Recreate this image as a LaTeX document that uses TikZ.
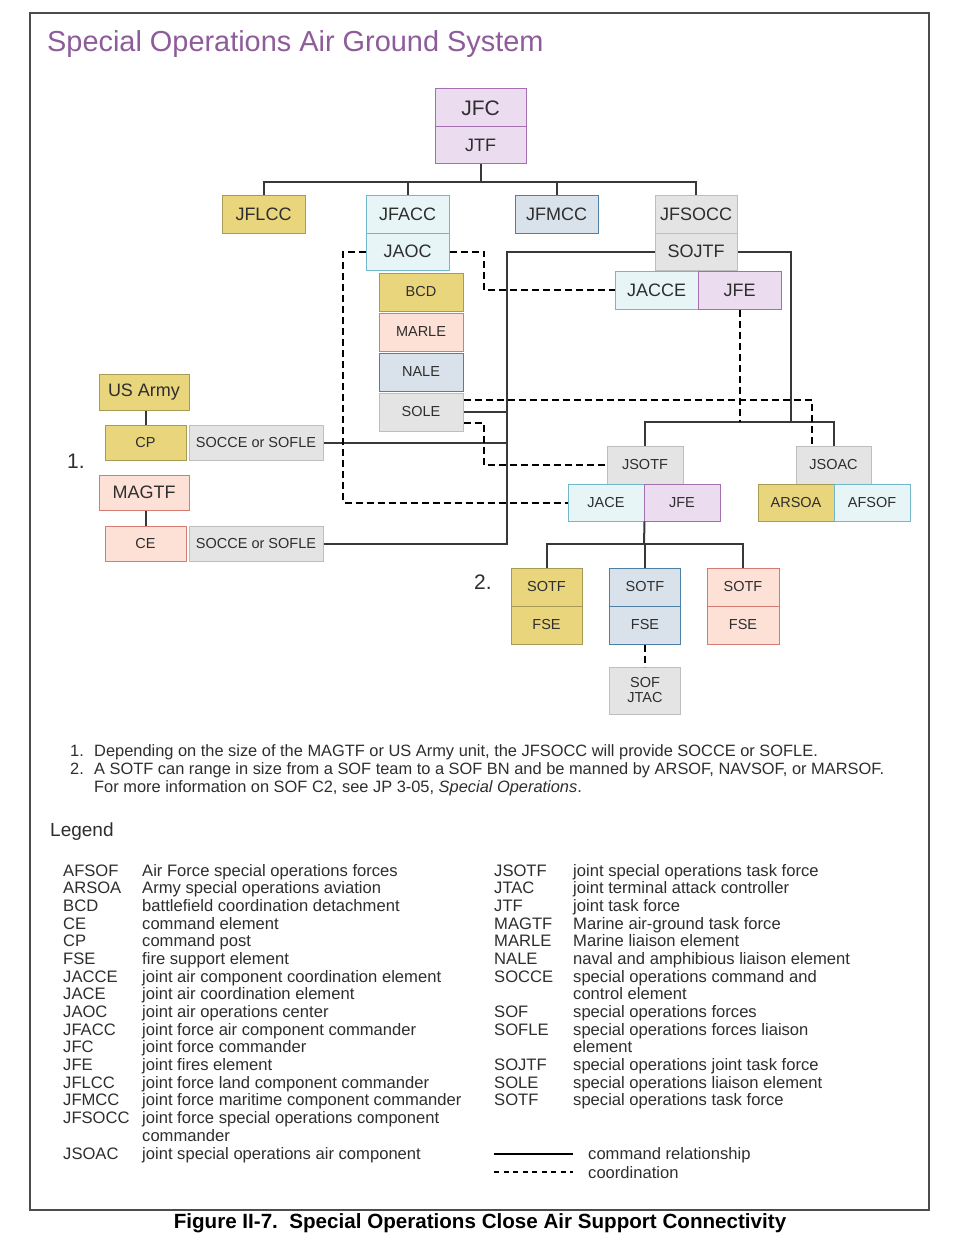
\documentclass[tikz,border=0pt]{standalone}
\usepackage{fontspec}
\setmainfont{Liberation Sans}
\definecolor{pufill}{HTML}{EBDCEF}
\definecolor{pudraw}{HTML}{A46FAE}
\definecolor{gofill}{HTML}{E9D57C}
\definecolor{godraw}{HTML}{A69A55}
\definecolor{cyfill}{HTML}{E8F5F7}
\definecolor{cydraw}{HTML}{72B8CA}
\definecolor{blfill}{HTML}{D9E2EA}
\definecolor{bldraw}{HTML}{4E80A6}
\definecolor{pkfill}{HTML}{FDE1D7}
\definecolor{pkdraw}{HTML}{D47C71}
\definecolor{grfill}{HTML}{E4E4E4}
\definecolor{grdraw}{HTML}{BEBEBE}
\definecolor{titlec}{HTML}{8E5C9A}
\definecolor{linec}{HTML}{383838}
\definecolor{textc}{HTML}{2E2E2E}
\newcommand\myfs[1]{\fontsize{#1}{#1}\selectfont}
\tikzset{
  box/.style={draw, line width=1pt, inner sep=0pt, align=center, text=textc},
  pu/.style={box, fill=pufill, draw=pudraw},
  go/.style={box, fill=gofill, draw=godraw},
  cy/.style={box, fill=cyfill, draw=cydraw},
  bl/.style={box, fill=blfill, draw=bldraw},
  pk/.style={box, fill=pkfill, draw=pkdraw},
  gr/.style={box, fill=grfill, draw=grdraw},
  wh/.style 2 args={minimum width=#1pt, minimum height=#2pt},
  big/.style={font=\myfs{18}},
  sm/.style={font=\myfs{14.5}},
  cmd/.style={draw=linec, line width=2pt},
  crd/.style={draw=black, line width=2pt, dash pattern=on 7pt off 4pt},
  txt/.style={inner sep=0pt, anchor=west, text=textc},
  leg/.style={inner sep=0pt, anchor=base west, text=textc, font=\myfs{16.6}},
  note/.style={inner sep=0pt, anchor=base west, text=textc, font=\myfs{16.4}},
}
\begin{document}
\begin{tikzpicture}[x=1pt,y=-1pt]
\useasboundingbox (0,0) rectangle (962,1244);
\fill[white] (0,0) rectangle (962,1244);
\draw[line width=1.6pt, draw=black!70] (30,13) rectangle (929,1210);
\node[txt, text=titlec, font=\myfs{28.9}] (title) at (47,44) {Special Operations Air Ground System};

% top
\node[pu, wh={91}{38}, font=\myfs{21}] (jfc) at (480.5,108) {JFC};
\node[pu, wh={91}{36}, big] (jtf) at (480.5,145) {JTF};
\node[go, wh={83}{38}, big] (jflcc) at (263.5,214) {JFLCC};
\node[cy, wh={83}{38}, big] (jfacc) at (407.5,214) {JFACC};
\node[cy, wh={83}{37}, big] (jaoc) at (407.5,251.5) {JAOC};
\node[bl, wh={83}{38}, big] (jfmcc) at (556.5,214) {JFMCC};
\node[gr, wh={82}{38}, big] (jfsocc) at (696,214) {JFSOCC};
\node[gr, wh={82}{37}, big] (sojtf) at (696,251.5) {SOJTF};
\node[cy, wh={83}{38}, big] (jacce) at (656.5,290) {JACCE};
\node[pu, wh={83}{38}, big] (jfea) at (739.5,290) {JFE};
\node[go, wh={84}{38}, sm] (bcd) at (421,292) {BCD};
\node[pk, wh={84}{38}, sm] (marle) at (421,332) {MARLE};
\node[bl, wh={84}{38}, sm] (nale) at (421,372) {NALE};
\node[gr, wh={84}{38}, sm] (sole) at (421,412) {SOLE};

% left
\node[go, wh={90}{36}, big] (usarmy) at (144,392) {US Army};
\node[go, wh={81}{35}, sm] (cp) at (145.5,442.5) {CP};
\node[gr, wh={134}{35}, sm] (soccea) at (256,442.5) {SOCCE or SOFLE};
\node[pk, wh={90}{35}, big] (magtf) at (144,492.5) {MAGTF};
\node[pk, wh={81}{35}, sm] (ce) at (145.5,543.5) {CE};
\node[gr, wh={134}{35}, sm] (socceb) at (256,543.5) {SOCCE or SOFLE};
\node[txt, font=\myfs{21}] (n1) at (67,461) {1.};

% right
\node[gr, wh={76}{38}, sm] (jsotf) at (645,465) {JSOTF};
\node[cy, wh={76}{37}, sm] (jace) at (606,502.5) {JACE};
\node[pu, wh={76}{37}, sm] (jfeb) at (682,502.5) {JFE};
\node[gr, wh={75}{38}, sm] (jsoac) at (833.5,465) {JSOAC};
\node[go, wh={76}{37}, sm] (arsoa) at (796,502.5) {ARSOA};
\node[cy, wh={76}{37}, sm] (afsof) at (872,502.5) {AFSOF};

% bottom
\node[go, wh={71}{38}, sm] (sotfa) at (546.5,587) {SOTF};
\node[go, wh={71}{38}, sm] (fsea) at (546.5,625) {FSE};
\node[bl, wh={71}{38}, sm] (sotfb) at (645,587) {SOTF};
\node[bl, wh={71}{38}, sm] (fseb) at (645,625) {FSE};
\node[pk, wh={72}{38}, sm] (sotfc) at (743,587) {SOTF};
\node[pk, wh={72}{38}, sm] (fsec) at (743,625) {FSE};
\node[gr, wh={71}{47}, font=\fontsize{14.5}{15}\selectfont, align=center] (sofjtac) at (645,690.5) {SOF\\JTAC};
\node[txt, font=\myfs{21}] (n2) at (474,582) {2.};

% command lines
\coordinate (b1) at (480.5,182);
\draw[cmd] (jflcc.north) |- (b1) -| (jfsocc.north);
\draw[cmd] (jtf.south) -- (b1);
\draw[cmd] (jfacc.north) -- (jfacc.north |- b1);
\draw[cmd] (jfmcc.north) -- (jfmcc.north |- b1);
\coordinate (lv) at (507,253);
\draw[cmd] (sojtf.west) -| (socceb.east -| lv) -- (socceb.east);
\draw[cmd] (soccea.east) -- (soccea.east -| lv);
\draw[cmd] (sole.east) -- (sole.east -| lv);
\coordinate (rb) at (791,422);
\draw[cmd] (sojtf.east) -| (rb);
\draw[cmd] (jsotf.north) |- (rb) -| (jsoac.north);
\coordinate (bb) at (644,544);
\draw[cmd] (jace.south east) -- (bb);
\draw[cmd] (sotfa.north) |- (bb) -| (sotfc.north);
\draw[cmd] (sotfb.north) -- (sotfb.north |- bb);
\draw[cmd] (cp.north) -- (cp.north |- usarmy.south);
\draw[cmd] (ce.north) -- (ce.north |- magtf.south);

% coordination lines
\coordinate (dl) at (343,502.5);
\draw[crd] (jaoc.west) -| (dl) -- (jace.west);
\coordinate (dr) at (484,290);
\draw[crd] (jaoc.east) -| (dr) -- (jacce.west);
\draw[crd] (jfea.south) -- (jfea.south |- rb);
\draw[crd] ([yshift=12pt]sole.east) -| ([xshift=-21.5pt]jsoac.north);
\coordinate (dj) at (484,465);
\draw[crd] ([yshift=-11pt]sole.east) -| (dj) -- (jsotf.west);
\draw[crd] (fseb.south) -- (sofjtac.north);

% notes
\node[note] (na) at (70,756) {1.};
\node[note] (nat) at (94,756) {Depending on the size of the MAGTF or US Army unit, the JFSOCC will provide SOCCE or SOFLE.};
\node[note] (nb) at (70,774) {2.};
\node[note] (nbt) at (94,774) {A SOTF can range in size from a SOF team to a SOF BN and be manned by ARSOF, NAVSOF, or MARSOF.};
\node[note] (nbu) at (94,792) {For more information on SOF C2, see JP 3-05, \textit{Special Operations}.};

% legend
\node[txt, font=\myfs{19}] (legend) at (50,832) {Legend};
\foreach \a/\d [count=\i] in {AFSOF/Air Force special operations forces, ARSOA/Army special operations aviation, BCD/battlefield coordination detachment, CE/command element, CP/command post, FSE/fire support element, JACCE/joint air component coordination element, JACE/joint air coordination element, JAOC/joint air operations center, JFACC/joint force air component commander, JFC/joint force commander, JFE/joint fires element, JFLCC/joint force land component commander, JFMCC/joint force maritime component commander, JFSOCC/joint force special operations component, /commander, JSOAC/joint special operations air component}{
  \node[leg] (la\i) at (63,{876+17.69*(\i-1)}) {\a};
  \node[leg] (ld\i) at (142,{876+17.69*(\i-1)}) {\d};
}
\foreach \a/\d [count=\i] in {JSOTF/joint special operations task force, JTAC/joint terminal attack controller, JTF/joint task force, MAGTF/Marine air-ground task force, MARLE/Marine liaison element, NALE/naval and amphibious liaison element, SOCCE/special operations command and, /control element, SOF/special operations forces, SOFLE/special operations forces liaison, /element, SOJTF/special operations joint task force, SOLE/special operations liaison element, SOTF/special operations task force}{
  \node[leg] (ra\i) at (494,{876+17.69*(\i-1)}) {\a};
  \node[leg] (rd\i) at (573,{876+17.69*(\i-1)}) {\d};
}
\coordinate (k1) at (494,1154);
\coordinate (k2) at (573,1154);
\coordinate (k3) at (494,1172);
\coordinate (k4) at (573,1172);
\draw[cmd, draw=black] (k1) -- (k2);
\draw[crd, line width=1.6pt, dash pattern=on 5pt off 4.5pt] (k3) -- (k4);
\node[leg] (kl1) at (588,1159) {command relationship};
\node[leg] (kl2) at (588,1178) {coordination};

\node[inner sep=0pt, font=\bfseries\myfs{20.6}] (caption) at (480,1223) {Figure II-7.\ \ Special Operations Close Air Support Connectivity};
\end{tikzpicture}
\end{document}
